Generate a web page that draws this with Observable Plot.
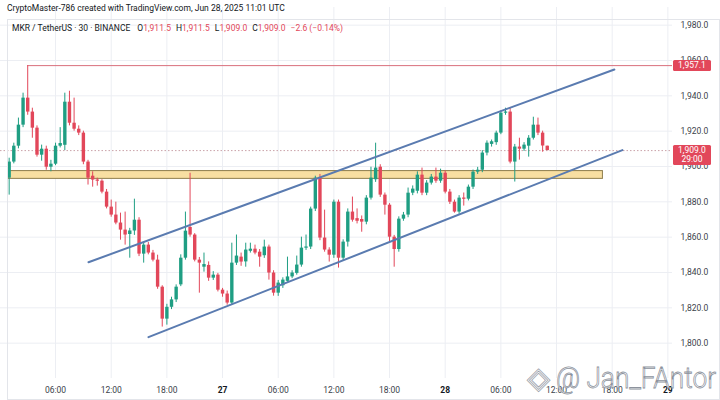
<!DOCTYPE html>
<html><head><meta charset="utf-8">
<script src="https://cdn.jsdelivr.net/npm/d3@7"></script>
<script src="https://cdn.jsdelivr.net/npm/@observablehq/plot@0.6"></script>
<style>body{margin:0;background:#fff}#chart{width:720px;height:400px}</style>
</head><body><div id="chart"></div>
<script>
// ---- data ----
const startTime = "2025-06-26T01:00:00Z"; // first 30-minute candle
const intervalMinutes = 30;
const opens = [1893.4,1902.5,1911.5,1923.4,1938.7,1930.8,1921.7,1906.4,1909.8,1899.6,
1901.3,1911.5,1912,1936.4,1924.5,1921.1,1918.9,1902.5,1894.5,1892.3,
1891.7,1885.5,1877,1872.5,1868,1864,1861.5,1863.5,1869.6,1850.4,
1855.5,1851,1847,1831.7,1813.6,1820.3,1824.5,1833,1848.1,1865.5,
1861.2,1847,1843,1844,1836.8,1838.5,1830,1827.8,1822.7,1845.3,
1848.7,1846,1852,1853.2,1851.5,1849.5,1854.4,1839.7,1828.3,1832.5,
1835,1837.5,1839.5,1844.2,1853.8,1854.4,1875.9,1893.4,1859.5,1852.7,
1849.8,1879.8,1848.1,1857.2,1874.2,1870.5,1870,1868.5,1882.1,1892.5,
1899.6,1883.8,1878.1,1860,1853,1870.2,1872.5,1884.9,1886,1895.1,
1884.9,1890.6,1894,1891.7,1896.2,1885.5,1879.8,1874.2,1882.1,1881.5,
1888.3,1896.8,1897.9,1907.6,1912.5,1913.5,1918.9,1930.2,1930.8,1902.5,
1911,1909.8,1911.5,1916,1923.4,1918.9,1911.5];
const highs = [1904.7,1913.2,1927.4,1941.5,1957.1,1933,1923,1912.1,1911.5,1903.5,
1913.2,1922,1941.5,1942.6,1938.7,1923,1920,1903.5,1897,1893.4,
1892.5,1887,1881,1879.8,1873.6,1874.2,1865,1881.5,1871,1857,
1857,1852.5,1849.8,1832.5,1822,1826,1833,1850,1874.2,1896.2,
1862,1848.5,1851,1846,1840.5,1839.5,1831,1829.5,1856.6,1861.2,
1851,1856.6,1856.6,1855.5,1853,1858.3,1855.5,1841,1835.5,1837,
1848.7,1841,1849.3,1860,1861.2,1877,1894.5,1895.5,1875.3,1854,
1881,1881,1858.5,1876,1882.7,1876,1872,1883.5,1899.6,1913.2,
1901,1885,1879,1861,1871.5,1874,1887.8,1889,1897,1899.1,
1892,1895.5,1899.1,1898.5,1897.5,1887,1881,1883.5,1885,1889.5,
1898,1899.5,1909,1914.5,1915,1920,1931.5,1933,1933,1912.5,
1916,1913.5,1917.5,1927.9,1927.4,1920,1911.5];
const lows = [1883.8,1901.5,1910,1922,1929,1916,1905.3,1903,1897.9,1897,
1900.5,1910.5,1909,1923,1920,1917.5,1901,1889.5,1888.3,1888.9,
1884.5,1876,1871.3,1867,1858.3,1855.5,1848.1,1861,1849,1845.3,
1850,1846,1830.5,1809.1,1810.2,1819,1823,1832,1847,1860,
1846,1828.3,1840.2,1835,1835.5,1829,1826,1821.5,1821.5,1844,
1843.5,1843,1851,1850,1843,1848,1835.7,1826.6,1826.5,1831,
1834.5,1836.5,1838.5,1843,1852.5,1853,1874.5,1858,1851.5,1845.9,
1848,1842.5,1846.5,1854.4,1868.5,1867.5,1862.8,1867,1881,1891,
1882.5,1872.5,1857,1843,1851.5,1869,1871,1883.5,1884.5,1883.5,
1883.5,1889.5,1890.5,1890.5,1884.5,1878.5,1873.6,1873,1877.6,1880.5,
1887,1895.5,1896.5,1906,1911,1912,1918,1929,1901.5,1891.2,
1903.6,1908.5,1905.3,1915,1917.5,1908.1,1909.0];
const closes = [1902.5,1911.5,1923.4,1938.7,1930.8,1921.7,1906.4,1909.8,1899.6,1901.3,
1911.5,1913,1936.4,1924.5,1921.1,1918.9,1902.5,1893.4,1892.3,1891.7,
1885.5,1877,1872.5,1868,1864,1861.2,1863.5,1869.6,1850.4,1855.5,
1851,1847,1831.7,1813.6,1820.3,1824.5,1831.7,1848.1,1863.4,1861.2,
1847,1845.3,1844.5,1836.8,1838.5,1830,1827.8,1822.7,1845.3,1849.3,
1845.9,1852.7,1853.2,1851,1848.7,1854.4,1839.7,1828.3,1834,1835.7,
1837.5,1839.7,1844.2,1853.8,1854.4,1875.9,1893.4,1859.5,1852.7,1849.8,
1879.8,1848.1,1857.2,1874.2,1869.6,1869,1868.5,1882.1,1893.4,1899.1,
1883.8,1878.1,1860,1853,1870.2,1872.5,1884.9,1887.2,1895.1,1884.9,
1890.6,1894,1891.7,1896.2,1885.5,1879.8,1874.2,1882.1,1881.5,1888.3,
1896.8,1897.9,1907.6,1913.2,1914,1918.9,1930.2,1930.8,1902.5,1911,
1909.8,1912.1,1916,1923.4,1918.9,1911.6,1909.0];
const hourTicks = ["2025-06-26T06:00Z","2025-06-26T12:00Z","2025-06-26T18:00Z",
  "2025-06-27T06:00Z","2025-06-27T12:00Z","2025-06-27T18:00Z",
  "2025-06-28T06:00Z","2025-06-28T12:00Z","2025-06-28T18:00Z"];
const dayTicks = ["2025-06-27T00:00Z","2025-06-28T00:00Z","2025-06-29T00:00Z"];
const priceTicks = [1800,1820,1840,1860,1880,1900,1920,1940,1960,1980];
const zoneLow = 1893.0, zoneHigh = 1897.4;
const zoneStart = "2025-06-26T00:55Z", zoneEnd = "2025-06-28T17:00Z";
const upperChannel = [["2025-06-26T09:33Z",1845.8],["2025-06-28T18:14Z",1954.9]];
const lowerChannel = [["2025-06-26T16:01Z",1803.4],["2025-06-28T19:06Z",1909.3]];
const resistance = 1957.1, resistanceStart = "2025-06-26T03:00Z";
const lastPrice = 1909.0, countdown = "29:00";
const header1 = "CryptoMaster-786 created with TradingView.com, Jun 28, 2025 11:01 UTC";
const symbolText = "MKR / TetherUS · 30 · BINANCE";
const ohlcText = [["O","1,911.5"],["H","1,911.5"],["L","1,909.0"],["C","1,909.0"]];
const changeText = "−2.6 (−0.14%)";
const watermark = "@ Jan_FAntor";

// ---- build ----
const UP = "#1f9e83", DOWN = "#e2475a";
const t0 = new Date(startTime).getTime();
const candles = opens.map((o, i) => {
  const c = closes[i];
  let lo = Math.min(o, c), hi = Math.max(o, c);
  if (hi - lo < 0.7) { const m = (hi + lo) / 2; lo = m - 0.35; hi = m + 0.35; }
  return {t: new Date(t0 + i * intervalMinutes * 60000), o, h: highs[i], l: lows[i], c, lo, hi, color: c >= o ? UP : DOWN};
});
const D = s => new Date(s);
const xDomain = [D("2025-06-26T00:04Z"), D("2025-06-29T00:30Z")];
const chan = (pts) => pts.map(([t, p]) => ({t: D(t), p}));

const chart = Plot.plot({
  width: 720, height: 400,
  marginLeft: 0, marginRight: 48, marginTop: 7, marginBottom: 22,
  x: {type: "utc", domain: xDomain},
  y: {domain: [1780, 1990]},
  style: {fontFamily: "Roboto, 'Liberation Sans', sans-serif", fontSize: "8.5px", background: "#fff", color: "#2a2e39"},
  marks: [
    Plot.gridX(hourTicks.concat(dayTicks).map(D), {stroke: "#eceef3", strokeOpacity: 1}),
    Plot.gridY(priceTicks, {stroke: "#eceef3", strokeOpacity: 1}),
    Plot.rect([{x1: D(zoneStart), x2: D(zoneEnd), y1: zoneLow, y2: zoneHigh}],
      {x1: "x1", x2: "x2", y1: "y1", y2: "y2", fill: "#f8dfa2", stroke: "#8e7d4c", strokeWidth: 1}),
    Plot.ruleY([lastPrice], {stroke: "#c9a2a8", strokeWidth: 1, strokeDasharray: "1.5,2"}),
    Plot.ruleY([resistance], {x1: D(resistanceStart), x2: xDomain[1], stroke: "#d9707c", strokeWidth: 1, clip: false}),
    Plot.ruleX(candles, {x: "t", y1: "l", y2: "h", stroke: "color", strokeWidth: 1}),
    Plot.ruleX(candles, {x: "t", y1: "lo", y2: "hi", stroke: "color", strokeWidth: 3.4}),
    Plot.line(chan(upperChannel), {x: "t", y: "p", stroke: "#5a7bb0", strokeWidth: 2}),
    Plot.line(chan(lowerChannel), {x: "t", y: "p", stroke: "#5a7bb0", strokeWidth: 2}),
    Plot.axisY(priceTicks, {anchor: "right", tickSize: 0, tickPadding: 8, tickFormat: d3.format(",.1f"), fill: "#3b3f4a", label: null}),
    Plot.axisX(hourTicks.map(D), {tickSize: 0, tickPadding: 8, tickFormat: d3.utcFormat("%H:%M"), fill: "#3b3f4a", label: null}),
    Plot.axisX(dayTicks.map(D), {tickSize: 0, tickPadding: 8, tickFormat: d => String(d.getUTCDate()), fill: "#131722", fontWeight: "bold", label: null})
  ]
});
document.getElementById("chart").appendChild(chart);

const svg = d3.select(chart);
const ys = chart.scale("y");
const yPix = v => ys.apply(v);

// frame
svg.append("rect").attr("x", 7.5).attr("y", 19.5).attr("width", 712).attr("height", 380)
  .attr("fill", "none").attr("stroke", "#e3e5ea");

// price labels
function priceBox(v, lines) {
  const y = yPix(v);
  const h = lines.length === 1 ? 11 : 20;
  svg.append("rect").attr("x", 673).attr("y", y - 5).attr("width", 38).attr("height", h)
    .attr("rx", 1.5).attr("fill", DOWN);
  lines.forEach((s, i) => {
    svg.append("text").attr("x", 692).attr("y", y + 3.2 + i * 9).attr("text-anchor", "middle")
      .attr("fill", "#fff").attr("font-size", 8.5).text(s);
  });
}
priceBox(resistance, [d3.format(",.1f")(resistance)]);
priceBox(lastPrice, [d3.format(",.1f")(lastPrice), countdown]);

// header
svg.append("text").attr("x", 7).attr("y", 11).attr("text-anchor", "start").attr("font-size", 8.5).attr("fill", "#131722").text(header1);
const h2 = svg.append("text").attr("x", 12).attr("y", 30.5).attr("text-anchor", "start").attr("font-size", 8.5).attr("fill", "#131722");
h2.append("tspan").text(symbolText);
ohlcText.forEach(([k, v], i) => {
  h2.append("tspan").attr("dx", i === 0 ? 7 : 5).attr("fill", "#131722").text(k);
  h2.append("tspan").attr("fill", DOWN).text(v);
});
h2.append("tspan").attr("dx", 5).attr("fill", DOWN).text(changeText);

// watermark
svg.append("text").attr("x", 527).attr("y", 388).attr("text-anchor", "start").attr("font-size", 30)
  .attr("font-family", "DejaVu Sans").attr("fill", "#fff").attr("stroke", "#9aa0aa").attr("stroke-width", 0.8).text("◈");
svg.append("text").attr("x", 556).attr("y", 388).attr("text-anchor", "start").attr("font-size", 30).attr("font-weight", 300)
  .attr("fill", "#fff").attr("stroke", "#8d939d").attr("stroke-width", 0.8)
  .attr("textLength", 160).attr("lengthAdjust", "spacingAndGlyphs").text(watermark);
</script></body></html>
